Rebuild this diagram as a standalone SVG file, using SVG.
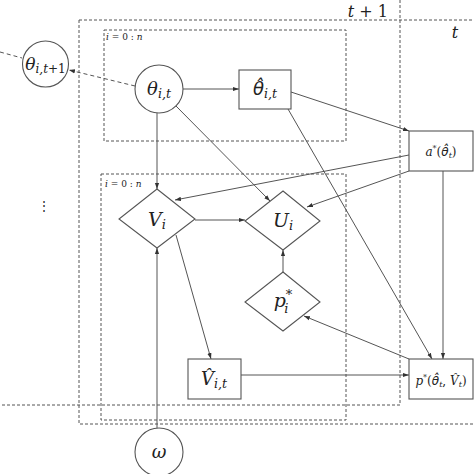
<svg xmlns="http://www.w3.org/2000/svg" width="474" height="474" viewBox="0 0 474 474">
<style>
.plate{fill:none;stroke:#555;stroke-width:1;stroke-dasharray:3,2}
.node{fill:#fff;stroke:#555;stroke-width:1.1}
.edge{fill:none;stroke:#555;stroke-width:1}
.dedge{fill:none;stroke:#555;stroke-width:1;stroke-dasharray:4,3}
text{font-family:'DejaVu Serif','Liberation Serif',serif;fill:#222}
.m{font-style:italic}
.r{font-style:normal}
.h{font-family:'DejaVu Sans',sans-serif}
</style>
<defs>
<marker id="ah" viewBox="0 0 10 10" refX="10" refY="5" markerWidth="6" markerHeight="6" orient="auto" markerUnits="userSpaceOnUse">
<path d="M0,1.5 L10,5 L0,8.5 z" fill="#333"/>
</marker>
</defs>
<rect width="474" height="474" fill="#fff"/>
<g id="plates">
<path class="plate" d="M79,20 H474 M79,20 V424 H474"/>
<path class="plate" d="M400,0 V405 H0"/>
<rect class="plate" x="104" y="30" width="242" height="111"/>
<rect class="plate" x="101" y="174" width="245" height="246"/>
<text class="m" x="388" y="17" font-size="16" text-anchor="end">t <tspan class="r">+ 1</tspan></text>
<text class="m" x="455" y="38" font-size="16" text-anchor="middle">t</text>
<text class="m" x="106" y="40" font-size="9">i <tspan class="r">= 0 :</tspan> n</text>
<text class="m" x="105" y="187" font-size="9">i <tspan class="r">= 0 :</tspan> n</text>
<text class="r" x="44" y="210" font-size="12" text-anchor="middle">⋮</text>
</g>
<g id="connectors">
<line class="dedge" x1="0" y1="52" x2="22" y2="58"/>
<line class="dedge" x1="135" y1="86" x2="69" y2="70" marker-end="url(#ah)"/>
<line class="edge" x1="183" y1="89" x2="239" y2="89" marker-end="url(#ah)"/>
<line class="edge" x1="157" y1="113" x2="157" y2="189" marker-end="url(#ah)"/>
<line class="edge" x1="176" y1="106" x2="270" y2="201" marker-end="url(#ah)"/>
<line class="edge" x1="291" y1="92" x2="409" y2="131" marker-end="url(#ah)"/>
<line class="edge" x1="288" y1="109" x2="432" y2="359" marker-end="url(#ah)"/>
<line class="edge" x1="409" y1="155" x2="175" y2="200" marker-end="url(#ah)"/>
<line class="edge" x1="409" y1="171" x2="307" y2="207" marker-end="url(#ah)"/>
<line class="edge" x1="443" y1="171" x2="443" y2="359" marker-end="url(#ah)"/>
<line class="edge" x1="195" y1="220" x2="245" y2="220" marker-end="url(#ah)"/>
<line class="edge" x1="176" y1="235" x2="211" y2="359" marker-end="url(#ah)"/>
<line class="edge" x1="157" y1="428" x2="157" y2="248" marker-end="url(#ah)"/>
<line class="edge" x1="283" y1="272" x2="283" y2="250" marker-end="url(#ah)"/>
<line class="edge" x1="409" y1="359" x2="304" y2="316" marker-end="url(#ah)"/>
<line class="edge" x1="241" y1="375" x2="409" y2="375" marker-end="url(#ah)"/>
</g>
<g id="theta_itp1">
<circle class="node" cx="45.5" cy="64" r="23"/>
<text class="m" x="45.5" y="70" font-size="17" text-anchor="middle">θ<tspan font-size="12" dy="3">i,t<tspan class="r">+1</tspan></tspan></text>
</g>
<g id="theta_it">
<circle class="node" cx="159" cy="89" r="24"/>
<text class="m" x="159" y="95" font-size="18" text-anchor="middle">θ<tspan font-size="12.5" dy="3">i,t</tspan></text>
</g>
<g id="thetahat_it">
<rect class="node" x="239" y="70" width="52" height="39"/>
<text class="m" x="265" y="95" font-size="18" text-anchor="middle"><tspan class="h">θ̂</tspan><tspan font-size="12.5" dy="3">i,t</tspan></text>
</g>
<g id="a_star">
<rect class="node" x="409" y="131" width="64" height="40"/>
<text class="m" x="441" y="156" font-size="12" text-anchor="middle">a<tspan class="r" font-size="8" dy="-5">*</tspan><tspan class="r" dy="5">(</tspan><tspan class="h">θ̂</tspan><tspan font-size="8" dy="2">t</tspan><tspan class="r" dy="-2">)</tspan></text>
</g>
<g id="V_i">
<path class="node" d="M157,189 L195,219 L157,248 L119,219 Z"/>
<text class="m" x="157" y="226" font-size="19" text-anchor="middle">V<tspan font-size="13" dy="3">i</tspan></text>
</g>
<g id="U_i">
<path class="node" d="M283,191 L320,221 L283,250 L245,221 Z"/>
<text class="m" x="283" y="227" font-size="19" text-anchor="middle">U<tspan font-size="13" dy="3">i</tspan></text>
</g>
<g id="p_i_star">
<path class="node" d="M283,272 L320,302 L283,331 L245,302 Z"/>
<text class="m" x="283" y="307" font-size="19" text-anchor="middle">p<tspan class="r" font-size="13" dy="-8">*</tspan><tspan font-size="13" dx="-8" dy="14">i</tspan></text>
</g>
<g id="Vhat_it">
<rect class="node" x="188" y="359" width="53" height="40"/>
<text class="m" x="214" y="385" font-size="18" text-anchor="middle">V̂<tspan font-size="12.5" dy="3">i,t</tspan></text>
</g>
<g id="p_star">
<rect class="node" x="409" y="359" width="64" height="40"/>
<text class="m" x="441" y="385" font-size="12" text-anchor="middle">p<tspan class="r" font-size="8" dy="-5">*</tspan><tspan class="r" dy="5">(</tspan><tspan class="h">θ̂</tspan><tspan font-size="8" dy="2">t</tspan><tspan class="r" dy="-2">, </tspan>V̂<tspan font-size="8" dy="2">t</tspan><tspan class="r" dy="-2">)</tspan></text>
</g>
<g id="omega">
<circle class="node" cx="159" cy="452" r="24"/>
<text class="m" x="159" y="458" font-size="18" text-anchor="middle">ω</text>
</g>
</svg>
